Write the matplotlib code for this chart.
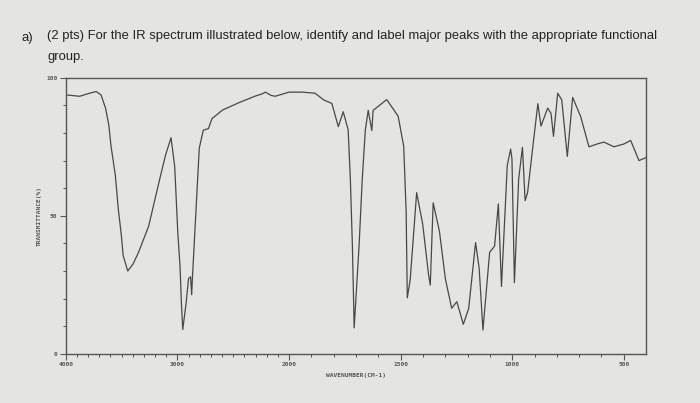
import numpy as np
import matplotlib
matplotlib.use("Agg")
import matplotlib.pyplot as plt

# spectrum (wavenumber in cm-1, transmittance in %)
wavenumber = [4000, 3876, 3788, 3728, 3684, 3643, 3614, 3596, 3556, 3530,
              3502, 3486, 3445, 3398, 3348, 3258, 3152, 3106, 3057, 3024,
              2996, 2976, 2964, 2952, 2922, 2900, 2882, 2872, 2866, 2804,
              2768, 2722, 2690, 2596, 2448, 2300, 2238, 2212, 2160, 2124,
              2000, 1940, 1883, 1845, 1808, 1779, 1757, 1735, 1725, 1716,
              1708, 1686, 1672, 1658, 1645, 1629, 1623, 1562, 1511, 1486,
              1475, 1470, 1457, 1428, 1401, 1374, 1367, 1354, 1326, 1299,
              1271, 1248, 1219, 1195, 1164, 1148, 1131, 1101, 1079, 1062,
              1048, 1022, 1007, 1001, 990, 971, 954, 942, 931, 909,
              885, 871, 841, 826, 815, 796, 778, 753, 729, 693,
              656, 620, 589, 544, 500, 469, 432, 400]
transmittance = [93.8, 93.3, 94.4, 95.0, 93.8, 88.9, 82.7, 75.6, 64.6, 52.6,
                 42.8, 35.6, 30.0, 32.5, 36.8, 46.2, 64.4, 72.0, 78.3, 67.8,
                 43.6, 31.5, 18.2, 8.8, 18.3, 27.3, 27.9, 21.4, 27.0, 74.5,
                 81.0, 81.6, 85.2, 88.3, 91.0, 93.4, 94.2, 94.8, 93.6, 93.3,
                 94.8, 94.8, 94.4, 92.0, 90.7, 82.3, 87.7, 81.2, 63.0, 39.3,
                 9.4, 39.2, 62.9, 81.1, 88.2, 80.9, 88.2, 92.1, 86.1, 75.2,
                 51.2, 20.3, 26.8, 58.4, 47.0, 28.2, 24.9, 54.7, 44.4, 27.0,
                 16.5, 18.9, 10.7, 16.4, 40.3, 31.0, 8.6, 36.8, 39.0, 54.3,
                 24.4, 68.3, 74.2, 70.6, 25.8, 63.3, 74.8, 55.5, 58.4, 74.0,
                 90.6, 82.5, 89.0, 87.1, 78.8, 94.4, 92.0, 71.5, 92.9, 85.9,
                 75.0, 76.0, 76.7, 75.0, 76.0, 77.3, 70.0, 71.1]

x_ticks = [4000, 3000, 2000, 1500, 1000, 500]
x_tick_labels = ["4000", "3000", "2000", "1500", "1000", "500"]
y_ticks = [0, 50, 100]
y_tick_labels = ["0", "50", "100"]

question = ("(2 pts) For the IR spectrum illustrated below, identify and label "
            "major peaks with the appropriate functional")

bg = "#e4e4e1"
ink = "#484848"


# old spectrometers print 4000-2000 at half the scale of 2000-400
def forward(w):
    w = np.asarray(w, dtype=float)
    return np.where(w > 2000, 2000 + (w - 2000) / 2, w)


def inverse(p):
    p = np.asarray(p, dtype=float)
    return np.where(p > 2000, 2000 + (p - 2000) * 2, p)


fig = plt.figure(figsize=(7, 4.03), dpi=100, facecolor=bg)
ax = fig.add_axes([0.094, 0.122, 0.829, 0.685], facecolor=bg)
ax.set_xscale("function", functions=(forward, inverse))

ax.plot(wavenumber, transmittance, color=ink, lw=0.9)

ax.set_xlim(4000, 400)
ax.set_ylim(0, 100)

for s in ax.spines.values():
    s.set_color("#555555")
    s.set_linewidth(1.0)

mono = dict(family="DejaVu Sans Mono", fontsize=4.4, color="#555555", fontweight="bold")

ax.set_xticks(x_ticks)
ax.set_xticklabels(x_tick_labels, **mono)
ax.set_xticks(list(range(4000, 400, -100)), minor=True)
ax.set_yticks(y_ticks)
ax.set_yticklabels(y_tick_labels, **mono)
ax.set_yticks(list(range(0, 101, 10)), minor=True)
ax.tick_params(axis="both", which="major", length=4, width=0.8, color="#555555", pad=2)
ax.tick_params(axis="both", which="minor", length=2.5, width=0.7, color="#555555")

ax.set_xlabel("WAVENUMBER(CM-1)", labelpad=4, **mono)
ax.set_ylabel("TRANSMITTANCE(%)", labelpad=3, **mono)

fig.text(22 / 700, 1 - 38 / 403, "a)", fontsize=9.4, family="Liberation Sans",
         color="#222222", va="center")
fig.text(47 / 700, 1 - 36 / 403, question, fontsize=9.4, family="Liberation Sans",
         color="#222222", va="center")
fig.text(47 / 700, 1 - 57 / 403, "group.", fontsize=9.4, family="Liberation Sans",
         color="#222222", va="center")

fig.savefig("out.png", dpi=100, facecolor=bg)
